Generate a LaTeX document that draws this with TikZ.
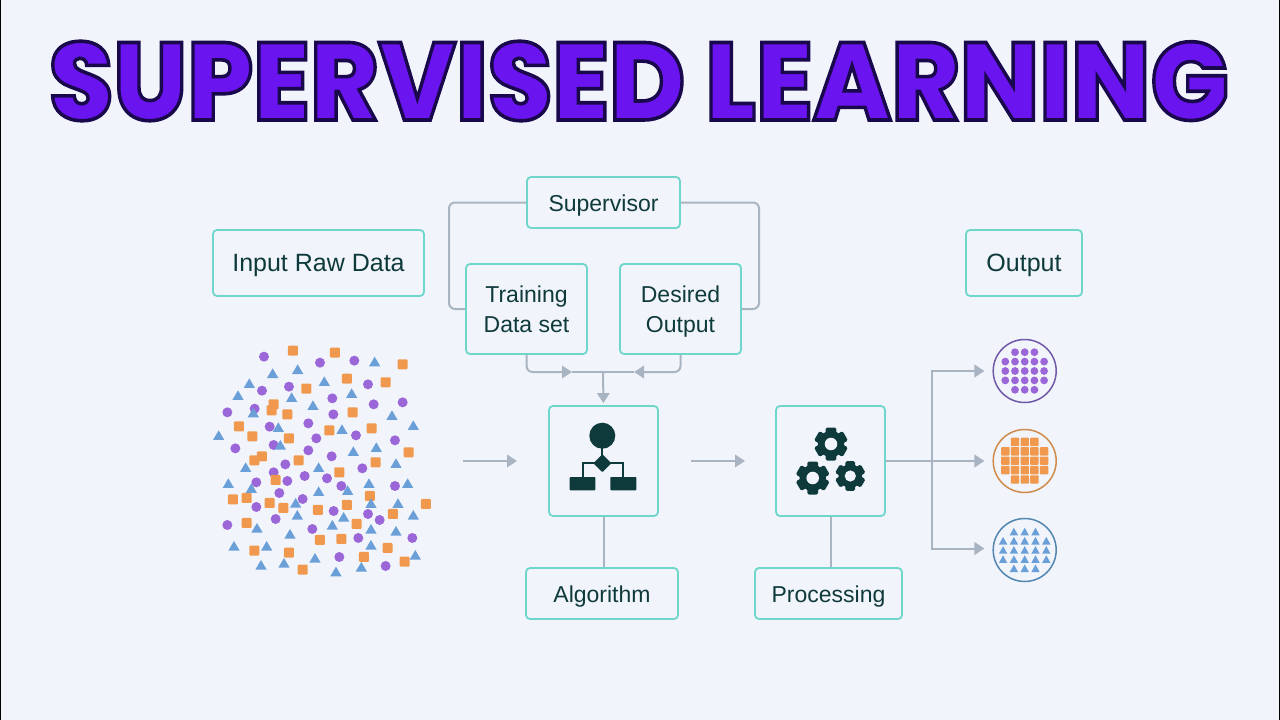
\documentclass[tikz,border=0pt]{standalone}
\usepackage{fontspec}
\usepackage{xcolor}
\setmainfont{Liberation Sans}
\newfontfamily\titlefont{Poppins ExtraBold}
\definecolor{bgblue}{HTML}{F1F5FB}
\definecolor{boxteal}{HTML}{6FD6CB}
\definecolor{inkteal}{HTML}{0F3A3C}
\definecolor{linegrey}{HTML}{A9B4C2}
\definecolor{titlepurple}{HTML}{6A14F0}
\definecolor{dotpurple}{HTML}{9B66D8}
\definecolor{dotorange}{HTML}{F0994E}
\definecolor{dotblue}{HTML}{6A9FD8}
% outline for the heading, stroke is set after the fill colour
\newcommand{\outlineon}{\special{pdf:code 2 Tr 3.6 w 0.10 0.03 0.30 RG}}
\newcommand{\outlineoff}{\special{pdf:code 0 Tr}}
\newcommand{\gearicon}[3]{%
	\fill[inkteal] (#1,#2) circle ({0.8*#3});
	\foreach \ang in {30,90,...,330}
		\fill[inkteal,rounded corners=1.5pt,shift={(#1,#2)},rotate=\ang] ({0.6*#3},{-0.33*#3}) rectangle ({#3},{0.33*#3});
	\fill[bgblue] (#1,#2) circle ({0.38*#3});
}
\usetikzlibrary{arrows.meta}
\tikzset{
	labelbox/.style = {draw=boxteal, line width=1.8pt, rounded corners=4pt, fill=bgblue, text=inkteal, inner sep=0pt, align=center, text height=17pt, text depth=0pt, font=\fontsize{23}{30}\selectfont},
	bigbox/.style = {labelbox, font=\fontsize{25}{30}\selectfont},
	twoline/.style = {labelbox, text height=47pt},
	link/.style = {draw=linegrey, line width=2pt, rounded corners=6pt},
	linkarrow/.style = {link, -{Triangle[length=10pt,width=12.5pt]}},
	ringline/.style = {line width=1.5pt, fill=none, inner sep=0pt, minimum size=63pt, circle}
}
\begin{document}
\begin{tikzpicture}[x=1pt,y=-1pt]
	\fill[bgblue] (0,0) rectangle (1280,720);
	\fill[black] (0,0) rectangle (1,720);
	\fill[black] (1279,0) rectangle (1280,720);
	\node[xscale=0.943, font=\titlefont\fontsize{110}{110}\selectfont, text=titlepurple, inner sep=0pt] (title) at (639,81) {\outlineon SUPERVISED LEARNING\outlineoff};
	% boxes
	\node[labelbox, minimum width=153pt, minimum height=51pt] (super) at (603.5,202.5) {Supervisor};
	\node[twoline, minimum width=121pt, minimum height=90pt] (train) at (526.5,309) {Training\\Data set};
	\node[twoline, minimum width=121pt, minimum height=90pt] (desired) at (680.5,309) {Desired\\Output};
	\node[bigbox, minimum width=211pt, minimum height=66pt] (input) at (318.5,263) {Input Raw Data};
	\node[bigbox, minimum width=116pt, minimum height=66pt] (output) at (1024,263) {Output};
	\node[labelbox, minimum width=109pt, minimum height=110pt] (algobox) at (603.5,461) {};
	\node[labelbox, minimum width=109pt, minimum height=110pt] (procbox) at (830.5,461) {};
	\node[labelbox, minimum width=152pt, minimum height=51pt] (algo) at (602,593.5) {Algorithm};
	\node[labelbox, minimum width=147pt, minimum height=51pt] (proc) at (828.5,593.5) {Processing};
	% result rings
	\node[ringline, draw=dotpurple!70!inkteal] (ringa) at (1024.7,371) {};
	\node[ringline, draw=dotorange!85!inkteal] (ringb) at (1024.7,461) {};
	\node[ringline, draw=dotblue!75!inkteal] (ringc) at (1024.7,550) {};
	% connectors
	\coordinate (join) at (603,372);
	\coordinate (fork) at (932,461);
	\draw[link] (super.west) -| (449,309) -- (train.west);
	\draw[link] (super.east) -| (759,309) -- (desired.east);
	\draw[linkarrow] (train.south) |- (572,372);
	\draw[linkarrow] (desired.south) |- (634,372);
	\draw[link] (572,372) -- (634,372);
	\draw[linkarrow, shorten >=2pt] (join) -- (algobox.north);
	\coordinate (cloudout) at (463,461);
	\coordinate (algoin) at (517,461);
	\coordinate (algoout) at (691,461);
	\coordinate (procin) at (745,461);
	\draw[linkarrow] (cloudout) -- (algoin);
	\draw[linkarrow] (algoout) -- (procin);
	\draw[linkarrow, shorten >=8pt] (procbox.east) -- (ringb.west);
	\draw[linkarrow, rounded corners=0pt, shorten >=8pt] (fork) |- (ringa.west);
	\draw[linkarrow, rounded corners=0pt, shorten >=8pt] (fork) |- ([yshift=1.5pt]ringc.west);
	\draw[link] (algobox.south) -- (algobox.south |- algo.north);
	\draw[link] (procbox.south) -- (procbox.south |- proc.north);
	% algorithm icon
	\draw[inkteal, line width=2pt] (602.3,436) -- (602.3,463.3);
	\draw[inkteal, line width=2pt] (582.5,478) |- (622.7,463.3) -- (622.7,478);
	\fill[inkteal] (602.3,435.7) circle (13);
	\fill[inkteal, rounded corners=1pt] (602.3,454.3) -- (611.3,463.3) -- (602.3,472.3) -- (593.3,463.3) -- cycle;
	\fill[inkteal, rounded corners=0.8pt] (569.7,477) rectangle (595.3,490.3);
	\fill[inkteal, rounded corners=0.8pt] (610.3,477) rectangle (636.3,490.3);
	% gears
	\gearicon{831}{444}{16.5}
	\gearicon{812.7}{478}{16.5}
	\gearicon{850.3}{476}{14.8}
	% scattered data
	\begin{scope}[shift={(200,340)},x=0.3333pt,y=-0.3333pt]
		\foreach \px/\py in {192/50,360/68,463/62,186/152,267/140,504/133,397/175,164/206,82/217,521/193,608/187,400/223,325/250,209/260,468/286,349/295,585/301,106/325,221/315,325/331,395/349,256/373,487/385,221/397,314/408,381/415,169/427,262/423,424/438,585/438,238/459,308/477,169/501,401/513,504/522,539/540,227/537,82/555,337/567,475/594,637/594,418/651,557/678}
			\fill[dotpurple] (\px,\py) circle (15);
		\foreach \px/\py in {279/32,405/38,608/73,441/116,319/146,557/127,221/193,215/211,262/223,458/217,117/259,157/289,267/295,388/271,515/265,626/337,163/361,186/349,296/361,527/367,418/397,227/420,99/478,140/474,209/489,250/504,354/510,441/495,510/468,678/492,579/522,140/549,470/552,360/600,424/597,563/624,163/632,267/638,492/651,614/665,308/689}
			\fill[dotorange, rounded corners=1pt] (\px-15,\py-15) rectangle (\px+15,\py+15);
		\foreach \px/\py in {524/65,218/100,293/88,373/124,148/130,114/166,275/172,455/160,339/196,160/218,576/226,235/262,640/256,56/286,426/268,241/315,529/322,460/334,137/382,356/382,588/370,85/430,154/445,356/454,443/451,507/430,623/430,287/489,513/490,594/490,292/525,431/531,640/525,397/555,171/564,513/567,588/573,270/582,102/618,200/618,513/615,646/645,345/654,183/675,252/669,484/681,408/695}
			\fill[dotblue] (\px-17,\py+14) -- (\px+17,\py+14) -- (\px,\py-15) -- cycle;
	\end{scope}
	% grids in the rings
	\foreach \col in {-2,...,2}
		\foreach \row in {-2,...,2} {
			\pgfmathtruncatemacro{\corner}{abs(\col)+abs(\row)}
			\ifnum\corner<4
				\fill[dotpurple] (1024.7+\col*9.7,371+\row*9.4) circle (3.9);
				\fill[dotorange, rounded corners=0.8pt] (1024.7+\col*9.7-4.2,460.7+\row*9.4-4.2) rectangle ++(8.4,8.4);
				\fill[dotblue] (1024.7+\col*10.8-4.2,550+\row*9.2+3.7) -- ++(8.4,0) -- ++(-4.2,-7.6) -- cycle;
			\fi
		}
\end{tikzpicture}
\end{document}
